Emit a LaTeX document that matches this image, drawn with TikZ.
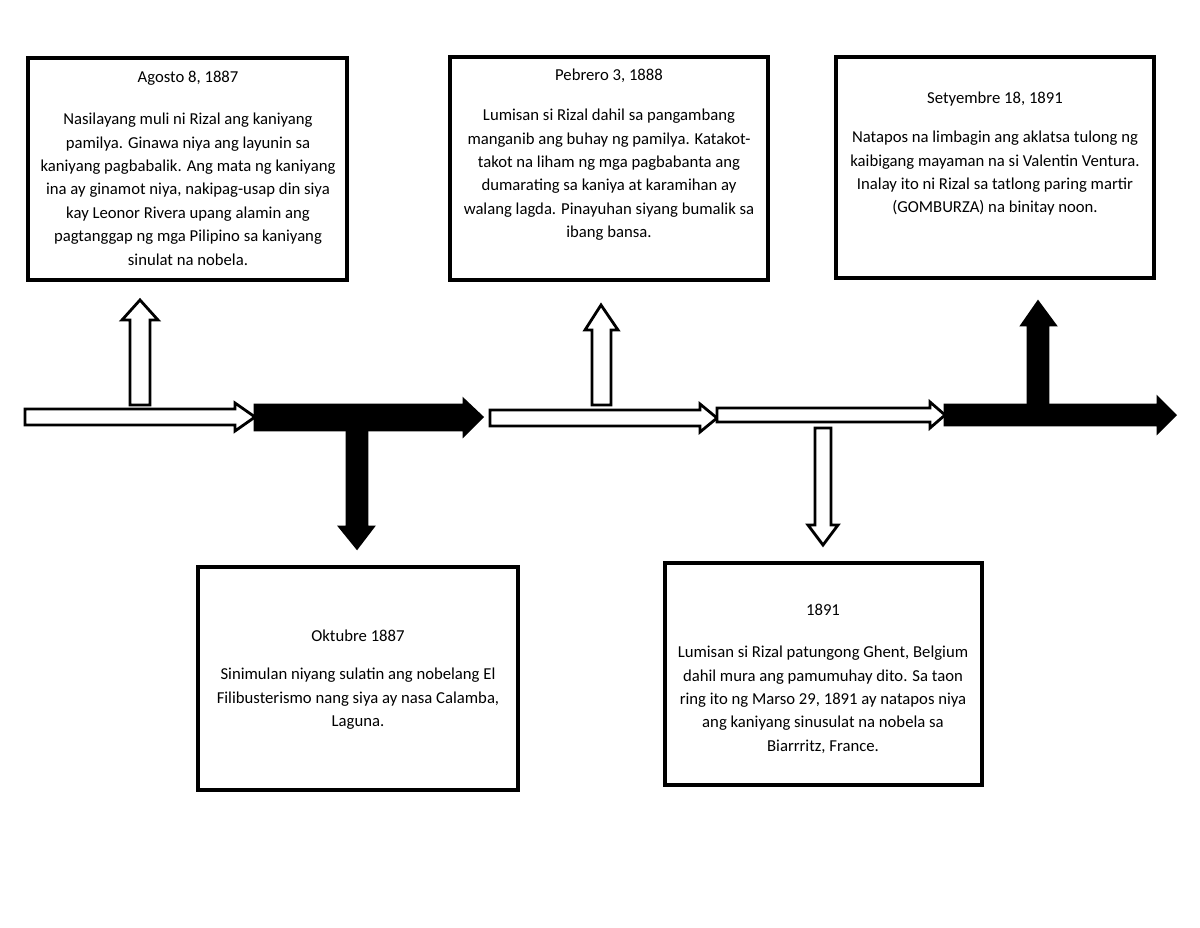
\documentclass[tikz,border=0pt]{standalone}
\usepackage{fontspec}
\setmainfont{Carlito}
\begin{document}
\begin{tikzpicture}[x=0.02cm,y=-0.02cm,
 box/.style={draw,line width=2.2pt},
 ttl/.style={font=\fontsize{9.5pt}{13.3pt}\selectfont},
 body/.style={font=\fontsize{9.5pt}{13.3pt}\selectfont,align=center,anchor=north},
 warrow/.style={draw,fill=white,line width=1.6pt,line join=miter},
 barrow/.style={draw,fill=black,line width=1.6pt,line join=miter}]
\useasboundingbox (0,0) rectangle (1200,927);
% boxes
\draw[box] (28,58) rectangle (347,280);
\draw[box] (450,57) rectangle (768,280);
\draw[box] (836,57) rectangle (1154,278);
\draw[box] (198,567) rectangle (518,790);
\draw[box] (665,563) rectangle (982,785);
% texts
\node[ttl] (t1) at (188,78) {Agosto 8, 1887};
\node[body] (b1) at (188,107) {Nasilayang muli ni Rizal ang kaniyang\\pamilya. Ginawa niya ang layunin sa\\kaniyang pagbabalik. Ang mata ng kaniyang\\ina ay ginamot niya, nakipag-usap din siya\\kay Leonor Rivera upang alamin ang\\pagtanggap ng mga Pilipino sa kaniyang\\sinulat na nobela.};
\node[ttl] (t2) at (609,76) {Pebrero 3, 1888};
\node[body] (b2) at (609,103) {Lumisan si Rizal dahil sa pangambang\\manganib ang buhay ng pamilya. Katakot-\\takot na liham ng mga pagbabanta ang\\dumarating sa kaniya at karamihan ay\\walang lagda. Pinayuhan siyang bumalik sa\\ibang bansa.};
\node[ttl] (t3) at (995,99) {Setyembre 18, 1891};
\node[body] (b3) at (995,125) {Natapos na limbagin ang aklatsa tulong ng\\kaibigang mayaman na si Valentin Ventura.\\Inalay ito ni Rizal sa tatlong paring martir\\(GOMBURZA) na binitay noon.};
\node[ttl] (t4) at (358,636) {Oktubre 1887};
\node[body] (b4) at (358,662) {Sinimulan niyang sulatin ang nobelang El\\Filibusterismo nang siya ay nasa Calamba,\\Laguna.};
\node[ttl] (t5) at (823,610) {1891};
\node[body] (b5) at (823,640) {Lumisan si Rizal patungong Ghent, Belgium\\dahil mura ang pamumuhay dito. Sa taon\\ring ito ng Marso 29, 1891 ay natapos niya\\ang kaniyang sinusulat na nobela sa\\Biarrritz, France.};
% timeline arrows
\draw[warrow] (25,409) -- (235,409) -- (235,403) -- (255,417) -- (235,431) -- (235,425) -- (25,425) -- cycle;
\draw[barrow] (255,405) -- (464,405) -- (464,400) -- (482,417) -- (464,435) -- (464,430) -- (255,430) -- cycle;
\draw[warrow] (490,410) -- (700,410) -- (700,404) -- (717,418) -- (700,432) -- (700,426) -- (490,426) -- cycle;
\draw[warrow] (717,408) -- (930,408) -- (930,402) -- (945,415) -- (930,428) -- (930,422) -- (717,422) -- cycle;
\draw[barrow] (945,405) -- (1158,405) -- (1158,398) -- (1175,415) -- (1158,432) -- (1158,425) -- (945,425) -- cycle;
% vertical arrows
\draw[warrow] (130,405) -- (130,320) -- (122,320) -- (140,300) -- (158,320) -- (150,320) -- (150,405) -- cycle;
\draw[barrow] (347,425) -- (347,527) -- (340,527) -- (357,548) -- (373,527) -- (367,527) -- (367,425) -- cycle;
\draw[warrow] (592,405) -- (592,330) -- (585,330) -- (601,305) -- (618,330) -- (611,330) -- (611,405) -- cycle;
\draw[warrow] (815,428) -- (815,525) -- (808,525) -- (823,545) -- (838,525) -- (831,525) -- (831,428) -- cycle;
\draw[barrow] (1028,405) -- (1028,325) -- (1022,325) -- (1038,302) -- (1055,325) -- (1048,325) -- (1048,405) -- cycle;
\end{tikzpicture}
\end{document}
